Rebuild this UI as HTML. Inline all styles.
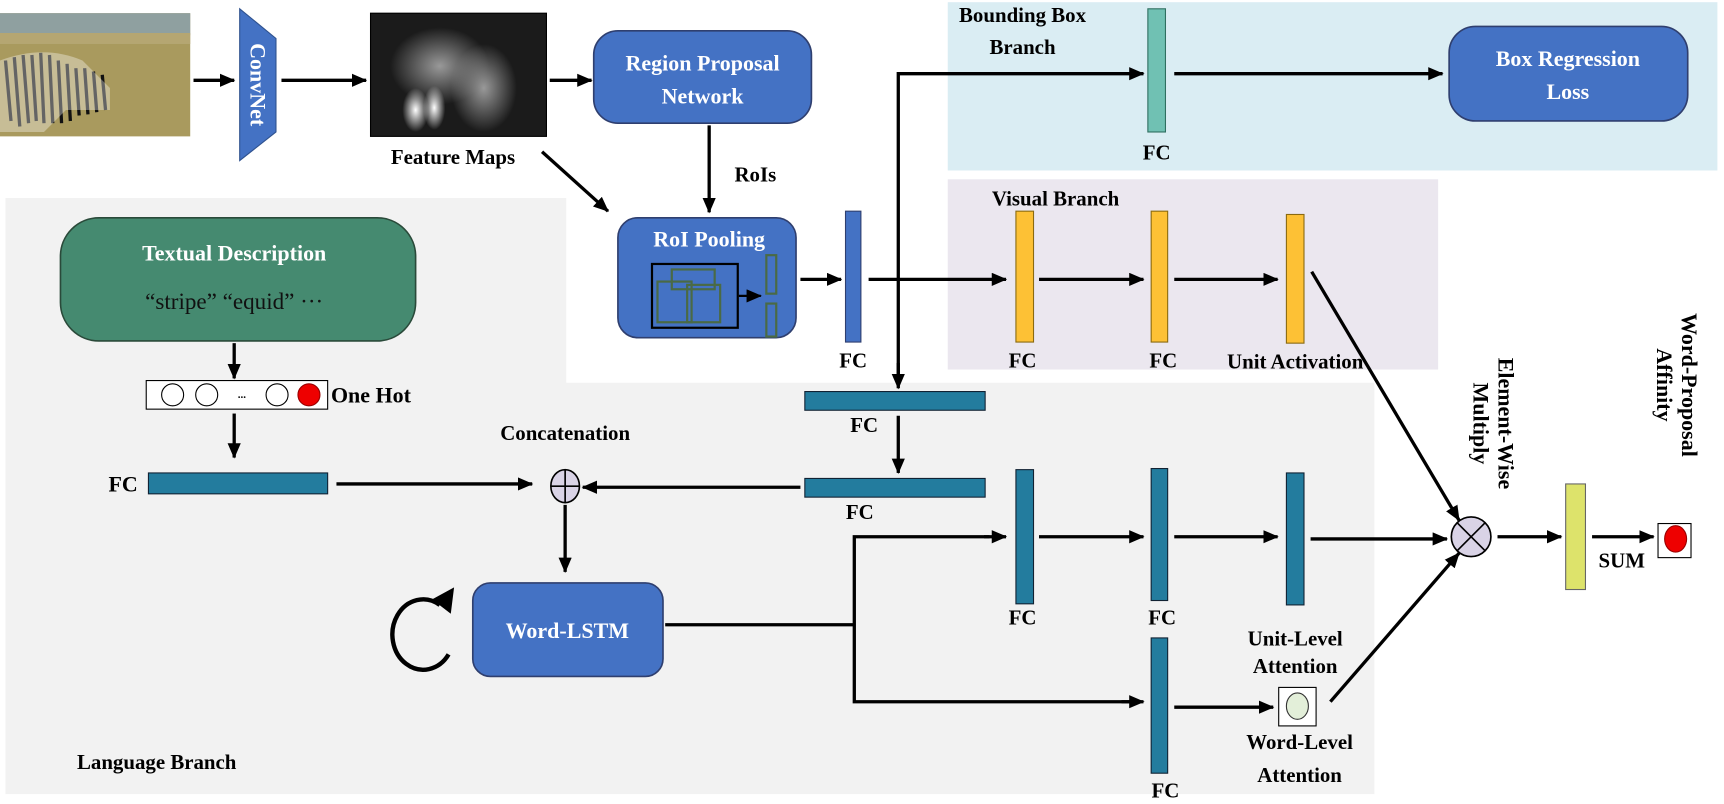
<!DOCTYPE html>
<html><head><meta charset="utf-8"><style>
html,body{margin:0;padding:0;background:#fff;}
svg{display:block;}
text{font-family:"Liberation Serif",serif;font-weight:bold;fill:#000;}
</style></head><body>
<svg width="1724" height="804" viewBox="0 0 1568 731" preserveAspectRatio="none" xmlns="http://www.w3.org/2000/svg">
<defs>
<marker id="a" markerWidth="14" markerHeight="12" refX="13" refY="6" orient="auto" markerUnits="userSpaceOnUse"><path d="M0,0 L14,6 L0,12 z" fill="#000"/></marker>
<radialGradient id="g1" cx="0.5" cy="0.5" r="0.5"><stop offset="0" stop-color="#fff"/><stop offset="1" stop-color="#fff" stop-opacity="0"/></radialGradient>
<radialGradient id="g2" cx="0.5" cy="0.5" r="0.5"><stop offset="0" stop-color="#999"/><stop offset="1" stop-color="#999" stop-opacity="0"/></radialGradient>
</defs>
<path d="M5,180 H515 V348 H1250 V722 H5 Z" fill="#f2f2f2"/>
<rect x="862" y="2" width="700" height="153" fill="#daedf3"/>
<rect x="862" y="163" width="446" height="173" fill="#ebe7ef"/>

<rect x="0" y="12" width="173" height="112" fill="#a99a5e"/>
<rect x="0" y="12" width="173" height="20" fill="#8fa0a0"/>
<rect x="0" y="30" width="173" height="10" fill="#b5a672"/>
<g stroke="#111" stroke-width="3">
<path d="M5,55 L10,110 M13,52 L18,115 M21,50 L26,112 M29,50 L33,110 M37,48 L40,112 M45,50 L48,112 M53,55 L56,112 M61,58 L64,110 M69,62 L72,105 M77,62 L80,104 M85,65 L88,102 M93,68 L96,100"/>
</g>
<path d="M0,55 Q40,40 75,55 L100,80 L100,100 L60,100 L40,120 L0,120 Z" fill="#fff" opacity="0.35"/>

<line x1="176" y1="73" x2="213" y2="73" stroke="#000" stroke-width="3" marker-end="url(#a)"/>
<path d="M218,8 L251,35 L251,120 L218,146 Z" fill="#4472c4" stroke="#2f528f" stroke-width="1"/>
<text transform="translate(228,77) rotate(90)" text-anchor="middle" font-size="20" style="fill:#fff">ConvNet</text>
<line x1="256" y1="73" x2="333" y2="73" stroke="#000" stroke-width="3" marker-end="url(#a)"/>
<rect x="337" y="12" width="160" height="112" fill="#1b1b1b" stroke="#000"/>
<ellipse cx="400" cy="60" rx="45" ry="35" fill="url(#g2)"/>
<ellipse cx="440" cy="80" rx="30" ry="40" fill="url(#g2)"/>
<ellipse cx="378" cy="100" rx="12" ry="20" fill="url(#g1)"/>
<ellipse cx="395" cy="98" rx="10" ry="20" fill="url(#g1)"/>
<text x="412" y="149" text-anchor="middle" font-size="19">Feature Maps</text>
<line x1="500" y1="73" x2="538" y2="73" stroke="#000" stroke-width="3" marker-end="url(#a)"/>
<rect x="540" y="28" width="198" height="84" rx="22" fill="#4472c4" stroke="#2f3f6f" stroke-width="1.5"/>
<text x="639" y="64" text-anchor="middle" font-size="20" style="fill:#fff">Region Proposal</text>
<text x="639" y="94" text-anchor="middle" font-size="20" style="fill:#fff">Network</text>
<line x1="645" y1="114" x2="645" y2="193" stroke="#000" stroke-width="3" marker-end="url(#a)"/>
<text x="668" y="165" font-size="19">RoIs</text>
<line x1="493" y1="138" x2="553" y2="192" stroke="#000" stroke-width="3" marker-end="url(#a)"/>

<rect x="562" y="198" width="162" height="109" rx="18" fill="#4472c4" stroke="#2f3f6f" stroke-width="1.5"/>
<text x="645" y="224" text-anchor="middle" font-size="20" style="fill:#fff">RoI Pooling</text>
<rect x="593" y="240" width="78" height="58" fill="none" stroke="#000" stroke-width="2"/>
<g fill="none" stroke="#4a6a45" stroke-width="2">
<rect x="598" y="256" width="31" height="37"/><rect x="611" y="245" width="39" height="18"/><rect x="625" y="259" width="30" height="34"/>
<rect x="697" y="232" width="9" height="35"/><rect x="697" y="276" width="9" height="30"/>
</g>
<line x1="672" y1="269" x2="692" y2="269" stroke="#000" stroke-width="2" marker-end="url(#a)"/>
<line x1="728" y1="254" x2="765" y2="254" stroke="#000" stroke-width="3" marker-end="url(#a)"/>
<rect x="769" y="192" width="14" height="119" fill="#4472c4" stroke="#2f3f6f"/>
<text x="776" y="334" text-anchor="middle" font-size="19">FC</text>

<line x1="790" y1="254" x2="915" y2="254" stroke="#000" stroke-width="3" marker-end="url(#a)"/>
<text x="960" y="187" text-anchor="middle" font-size="19">Visual Branch</text>
<rect x="924" y="192" width="16" height="119" fill="#fdc135" stroke="#8a6a10"/>
<text x="930" y="334" text-anchor="middle" font-size="19">FC</text>
<line x1="945" y1="254" x2="1040" y2="254" stroke="#000" stroke-width="3" marker-end="url(#a)"/>
<rect x="1047" y="192" width="15" height="119" fill="#fdc135" stroke="#8a6a10"/>
<text x="1058" y="334" text-anchor="middle" font-size="19">FC</text>
<line x1="1068" y1="254" x2="1162" y2="254" stroke="#000" stroke-width="3" marker-end="url(#a)"/>
<rect x="1170" y="195" width="16" height="117" fill="#fdc135" stroke="#8a6a10"/>
<text x="1178" y="335" text-anchor="middle" font-size="19">Unit Activation</text>

<polyline points="817,340 817,67 1040,67" fill="none" stroke="#000" stroke-width="3" marker-end="url(#a)"/>
<line x1="817" y1="330" x2="817" y2="353" stroke="#000" stroke-width="3" marker-end="url(#a)"/>
<text x="930" y="20" text-anchor="middle" font-size="19">Bounding Box</text>
<text x="930" y="49" text-anchor="middle" font-size="19">Branch</text>
<rect x="1044" y="8" width="16" height="112" fill="#70c1b3" stroke="#2f6f60"/>
<text x="1052" y="145" text-anchor="middle" font-size="19">FC</text>
<line x1="1068" y1="67" x2="1312" y2="67" stroke="#000" stroke-width="3" marker-end="url(#a)"/>
<rect x="1318" y="24" width="217" height="86" rx="24" fill="#4472c4" stroke="#2f3f6f" stroke-width="1.5"/>
<text x="1426" y="60" text-anchor="middle" font-size="20" style="fill:#fff">Box Regression</text>
<text x="1426" y="90" text-anchor="middle" font-size="20" style="fill:#fff">Loss</text>

<rect x="732" y="356" width="164" height="17" fill="#237c9e" stroke="#123"/>
<text x="786" y="393" text-anchor="middle" font-size="19">FC</text>
<line x1="817" y1="378" x2="817" y2="430" stroke="#000" stroke-width="3" marker-end="url(#a)"/>
<rect x="732" y="435" width="164" height="17" fill="#237c9e" stroke="#123"/>
<text x="782" y="472" text-anchor="middle" font-size="19">FC</text>
<line x1="728" y1="443" x2="530" y2="443" stroke="#000" stroke-width="3" marker-end="url(#a)"/>
<ellipse cx="514" cy="442" rx="13" ry="15" fill="#d9d3e6" stroke="#000" stroke-width="1.5"/>
<line x1="501" y1="442" x2="527" y2="442" stroke="#000" stroke-width="1.5"/>
<line x1="514" y1="427" x2="514" y2="457" stroke="#000" stroke-width="1.5"/>
<text x="514" y="400" text-anchor="middle" font-size="19">Concatenation</text>

<rect x="55" y="198" width="323" height="112" rx="35" fill="#458a70" stroke="#2a4a3a" stroke-width="1.5"/>
<text x="213" y="237" text-anchor="middle" font-size="20" style="fill:#fff">Textual Description</text>
<text x="213" y="281" text-anchor="middle" font-size="21" style="font-weight:normal;fill:#111">“stripe”  “equid” ···</text>
<line x1="213" y1="312" x2="213" y2="344" stroke="#000" stroke-width="3" marker-end="url(#a)"/>
<rect x="133" y="346" width="165" height="26" fill="#fff" stroke="#000"/>
<g fill="#fff" stroke="#000"><circle cx="157" cy="359" r="10"/><circle cx="188" cy="359" r="10"/><circle cx="252" cy="359" r="10"/></g>
<text x="220" y="362" text-anchor="middle" font-size="10">...</text>
<circle cx="281" cy="359" r="10" fill="#e00" stroke="#900"/>
<text x="301" y="366" font-size="20">One Hot</text>
<line x1="213" y1="376" x2="213" y2="416" stroke="#000" stroke-width="3" marker-end="url(#a)"/>
<rect x="135" y="430" width="163" height="19" fill="#237c9e" stroke="#123"/>
<text x="112" y="447" text-anchor="middle" font-size="20">FC</text>
<line x1="306" y1="440" x2="484" y2="440" stroke="#000" stroke-width="3" marker-end="url(#a)"/>
<line x1="514" y1="459" x2="514" y2="520" stroke="#000" stroke-width="3" marker-end="url(#a)"/>

<rect x="430" y="530" width="173" height="85" rx="16" fill="#4472c4" stroke="#2f3f6f" stroke-width="1.5"/>
<text x="516" y="580" text-anchor="middle" font-size="20" style="fill:#fff">Word-LSTM</text>
<path d="M408,595 A28,32 0 1 1 400,550" fill="none" stroke="#000" stroke-width="4"/>
<path d="M393,545 L413,534 L410,558 Z" fill="#000"/>
<text x="70" y="699" font-size="19">Language Branch</text>

<polyline points="605,568 777,568" fill="none" stroke="#000" stroke-width="3"/>
<polyline points="900,488 777,488 777,638 1030,638" fill="none" stroke="#000" stroke-width="3"/>
<line x1="895" y1="488" x2="915" y2="488" stroke="#000" stroke-width="3" marker-end="url(#a)"/>
<line x1="1020" y1="638" x2="1040" y2="638" stroke="#000" stroke-width="3" marker-end="url(#a)"/>

<rect x="924" y="427" width="16" height="122" fill="#237c9e" stroke="#123"/>
<text x="930" y="568" text-anchor="middle" font-size="19">FC</text>
<line x1="945" y1="488" x2="1040" y2="488" stroke="#000" stroke-width="3" marker-end="url(#a)"/>
<rect x="1047" y="426" width="15" height="120" fill="#237c9e" stroke="#123"/>
<text x="1057" y="568" text-anchor="middle" font-size="19">FC</text>
<line x1="1068" y1="488" x2="1162" y2="488" stroke="#000" stroke-width="3" marker-end="url(#a)"/>
<rect x="1170" y="430" width="16" height="120" fill="#237c9e" stroke="#123"/>
<text x="1178" y="587" text-anchor="middle" font-size="19">Unit-Level</text>
<text x="1178" y="612" text-anchor="middle" font-size="19">Attention</text>
<line x1="1192" y1="490" x2="1316" y2="490" stroke="#000" stroke-width="3" marker-end="url(#a)"/>

<rect x="1047" y="580" width="15" height="123" fill="#237c9e" stroke="#123"/>
<text x="1060" y="725" text-anchor="middle" font-size="19">FC</text>
<line x1="1068" y1="643" x2="1158" y2="643" stroke="#000" stroke-width="3" marker-end="url(#a)"/>
<rect x="1163" y="625" width="34" height="35" fill="#fff" stroke="#000"/>
<ellipse cx="1180" cy="642" rx="10" ry="12" fill="#e3efd9" stroke="#333"/>
<text x="1182" y="681" text-anchor="middle" font-size="19">Word-Level</text>
<text x="1182" y="711" text-anchor="middle" font-size="19">Attention</text>

<line x1="1210" y1="638" x2="1327" y2="503" stroke="#000" stroke-width="3" marker-end="url(#a)"/>
<line x1="1193" y1="247" x2="1327" y2="473" stroke="#000" stroke-width="3" marker-end="url(#a)"/>
<circle cx="1338" cy="488" r="18" fill="#d9d3e6" stroke="#000" stroke-width="1.5"/>
<line x1="1325" y1="475" x2="1351" y2="501" stroke="#000" stroke-width="1.5"/>
<line x1="1351" y1="475" x2="1325" y2="501" stroke="#000" stroke-width="1.5"/>
<text transform="translate(1363,385) rotate(90)" text-anchor="middle" font-size="20">Element-Wise</text>
<text transform="translate(1340,385) rotate(90)" text-anchor="middle" font-size="20">Multiply</text>

<line x1="1362" y1="488" x2="1420" y2="488" stroke="#000" stroke-width="3" marker-end="url(#a)"/>
<rect x="1424" y="440" width="18" height="96" fill="#dde36b" stroke="#666"/>
<line x1="1448" y1="488" x2="1504" y2="488" stroke="#000" stroke-width="3" marker-end="url(#a)"/>
<text x="1475" y="516" text-anchor="middle" font-size="19">SUM</text>
<rect x="1508" y="476" width="30" height="31" fill="#fff" stroke="#000"/>
<ellipse cx="1524" cy="490" rx="10" ry="12" fill="#e00" stroke="#900"/>
<text transform="translate(1530,350) rotate(90)" text-anchor="middle" font-size="20">Word-Proposal</text>
<text transform="translate(1507,350) rotate(90)" text-anchor="middle" font-size="20">Affinity</text>
</svg>
</body></html>
